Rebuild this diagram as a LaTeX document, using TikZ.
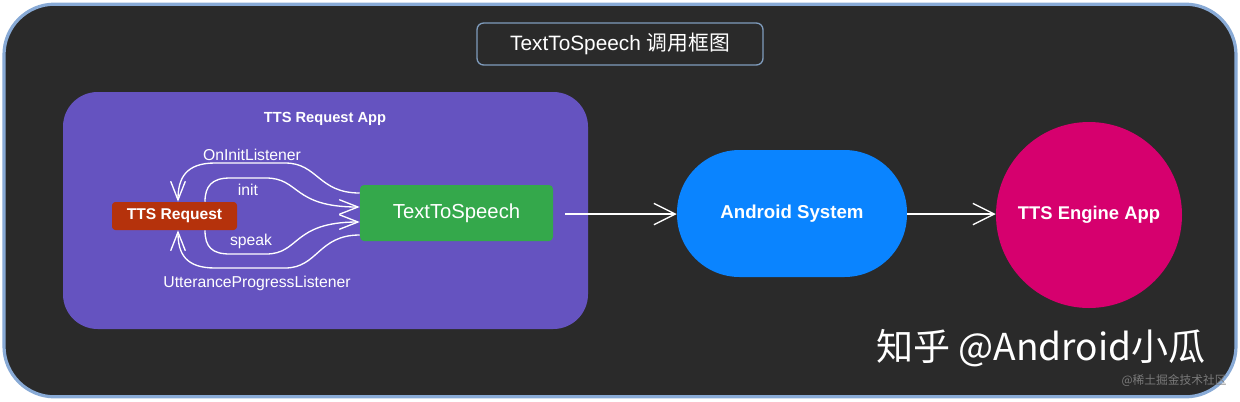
\documentclass[tikz,border=0pt]{standalone}
\usepackage{fontspec}
\setmainfont{Liberation Sans}
\newfontfamily\cjk{Noto Sans CJK SC}
\usetikzlibrary{arrows.meta,calc}
\definecolor{bgdark}{HTML}{2A2A2A}
\definecolor{outerline}{HTML}{88AAD6}
\definecolor{titleline}{HTML}{7F9CBD}
\definecolor{apppurple}{HTML}{6553C0}
\definecolor{reqred}{HTML}{B5320C}
\definecolor{ttsgreen}{HTML}{34A84B}
\definecolor{sysblue}{HTML}{0A84FF}
\definecolor{engpink}{HTML}{D6006E}
\definecolor{wmgrey}{HTML}{7A7A7A}
\tikzset{
  conn/.style={draw=white, line width=1pt},
  bigarrow/.style={conn, -{Straight Barb[length=16pt,width=16pt,line width=1pt]}},
  smallarrow/.style={conn, -{Straight Barb[length=14pt,width=11pt,line width=1pt]}},
  lbl/.style={text=white, font=\fontsize{11.8pt}{13pt}\selectfont, inner sep=0pt},
}
\begin{document}
\begin{tikzpicture}[x=0.75pt,y=-0.75pt]
\useasboundingbox (0,0) rectangle (1240,401);
\fill[white] (0,0) rectangle (1240,401);
% outer frame
\node[draw=outerline, line width=2.4pt, fill=bgdark, rounded corners=38pt,
      minimum width=924pt, minimum height=294.5pt, inner sep=0pt] (frame) at (620,200.5) {};
% title
\node[draw=titleline, line width=1pt, fill=bgdark, rounded corners=5pt,
      minimum width=214.5pt, minimum height=31.5pt, text=white,
      font=\fontsize{15.6pt}{18pt}\selectfont] (title) at (620,44)
      {TextToSpeech {\cjk 调用框图}};
% app container
\node[fill=apppurple, rounded corners=26pt, minimum width=393.75pt,
      minimum height=177.75pt, inner sep=0pt] (app) at (325.5,210.5) {};
\node[text=white, font=\bfseries\fontsize{11pt}{13pt}\selectfont] (applbl) at (325,119) {TTS Request App};
% request box
\node[fill=reqred, rounded corners=2.5pt, minimum width=93.75pt, minimum height=21pt,
      inner sep=0pt, text=white, font=\bfseries\fontsize{11.7pt}{13pt}\selectfont] (req) at (174.5,216) {TTS Request};
% TextToSpeech box
\node[fill=ttsgreen, rounded corners=3pt, minimum width=144.75pt, minimum height=42pt,
      inner sep=0pt, text=white, font=\fontsize{15.2pt}{18pt}\selectfont] (tts) at (456.5,213) {TextToSpeech};
% Android system
\node[fill=sysblue, rounded corners=47pt, minimum width=172.5pt, minimum height=95.25pt,
      inner sep=0pt, text=white, font=\bfseries\fontsize{14pt}{16pt}\selectfont] (sys) at (792,213.5) {Android System};
% engine
\node[circle, fill=engpink, minimum size=139.5pt, inner sep=0pt, text=white,
      font=\bfseries\fontsize{13.8pt}{16pt}\selectfont] (eng) at (1089,215) {TTS Engine App};
% main arrows
\draw[bigarrow] ($(tts.east)+(12,1)$) -- (sys.west |- 0,214);
\draw[bigarrow] (sys.east |- 0,214) -- (eng.west |- 0,214);
% curved calls
\draw[smallarrow] ($(tts.west)+(0,-20)$) .. controls (318,193) and (318,163) .. (285,163)
   -- (215,163) .. controls (186,163) and (178,178) .. ($(req.north)+(3.5,0)$);
\draw[smallarrow] ($(req.north)+(30.5,0)$) .. controls (205,186) and (212,178) .. (230,178)
   -- (266,178) .. controls (300,178) and (292,207) .. ($(tts.west)+(0,-6)$);
\draw[smallarrow] ($(req.south)+(30.5,0)$) .. controls (205,247) and (212,254) .. (230,254)
   -- (266,254) .. controls (300,254) and (292,222) .. ($(tts.west)+(0,9)$);
\draw[smallarrow] ($(tts.west)+(0,22)$) .. controls (318,235) and (318,268) .. (285,268)
   -- (215,268) .. controls (186,268) and (178,254) .. ($(req.south)+(3.5,0)$);
\node[lbl] (l1) at (252,155) {OnInitListener};
\node[lbl] (l2) at (248,190) {init};
\node[lbl] (l3) at (251,241) {speak};
\node[lbl] (l4) at (257,283) {UtteranceProgressListener};
% watermarks
\node[text=white, inner sep=0pt, font=\cjk\fontsize{27.8pt}{31pt}\selectfont] (wm) at (1041,348) {知乎 @Android小瓜};
\node[text=wmgrey, inner sep=0pt, font=\cjk\fontsize{8.8pt}{10pt}\selectfont] (wm2) at (1174,381) {@稀土掘金技术社区};
\end{tikzpicture}
\end{document}
